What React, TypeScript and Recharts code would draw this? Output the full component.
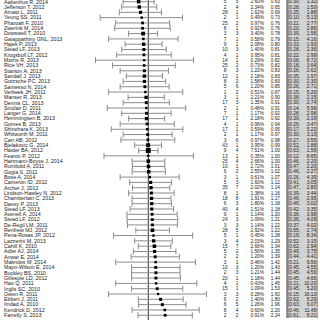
import {
  ScatterChart,
  Scatter,
  XAxis,
  YAxis,
  ErrorBar,
  ReferenceLine,
} from 'recharts';

const studies = [
  'Aabenhus R, 2014', 'Jefferson T, 2012', 'Amato L, 2011', 'Yeung SS, 2011', 'Pharoah F, 2010',
  'Zwerink M, 2014', 'Dowswell T, 2010', 'Gaiappathiny GNL, 2013', 'Hajek P, 2013', 'Stead LF, 2013',
  'Krogsboll LT, 2012', 'Morris R, 2013', 'Rice VH, 2013', 'Stanton A, 2013', 'Sandall J, 2013',
  'Gotzsche PC, 2013', 'Santesso N, 2014', 'Verbeek JH, 2011', 'Manser R, 2013', 'Dennis CL, 2013',
  'Sinclair D, 2011', 'Langer G, 2014', 'Hemmingsen B, 2013', 'Gomes B, 2013', 'Shinohara K, 2013',
  'Whitworth M, 2011', 'Carr AB, 2012', 'Bjelakovic G, 2014', 'Haider BA, 2012', 'Fearon P, 2012',
  'Hartmann-Boyce J, 2014', 'Rumbold A, 2011', 'Gogia S, 2011', 'Bose A, 2014', 'Cameron ID, 2012',
  'Archer J, 2012', 'Lindson-Hawley N, 2012', 'Chamberlain C, 2013', 'Davey P, 2013', 'Stead LF, 2013',
  'Avenell A, 2014', 'Stead LF, 2012', 'De-Regil LM, 2011', 'Renfrew MJ, 2012', 'Pena-Rosas JP, 2012',
  'Lazzerini M, 2013', 'Cahill K, 2010', 'Adler AJ, 2014', 'Anwar E, 2014', 'Makrides M, 2014',
  'Mayo-Wilson E, 2014', 'Buckley BS, 2010', 'Gillespie LD, 2012', 'Hao Q, 2011', 'Inglis SC, 2010',
  'Owen R, 2011', 'Ebbert J, 2011', 'Imdad A, 2010', 'Kendrick D, 2012', 'Farrelly S, 2013',
];

const countA = [
  5, 2, 28, 2, 25, 8, 3, 7, 9, 10, 4, 14, 25, 8, 12,
  8, 5, 1, 3, 17, 2, 7, 17, 4, 17, 2, 3, 43, 9, 13,
  25, 10, 6, 3, 5, 35, 8, 18, 6, 40, 9, 24, 3, 28, 5,
  3, 15, 5, 2, 3, 10, 2, 20, 4, 15, 3, 6, 6, 8, 2,
];

const countB = [
  5, 4, 1, 1, 2, 1, 3, 1, 1, 3, 1, 1, 2, 3, 1,
  2, 6, 2, 1, 3, 1, 1, 1, 1, 1, 1, 6, 1, 4, 1,
  4, 1, 2, 1, 3, 7, 1, 8, 3, 4, 1, 3, 3, 5, 1,
  4, 7, 2, 2, 1, 3, 3, 1, 1, 1, 3, 2, 5, 4, 2,
];

const weights = [
  2.6, 2.34, 1.62, 0.49, 0.97, 0.92, 3.4, 0.58, 2.08, 1.4, 0.95, 0.29, 0.73, 1.22, 2.18,
  1.58, 1.2, 0.51, 2.21, 1.35, 0.48, 1.17, 2.18, 0.96, 0.59, 1.17, 0.97, 3.95, 7.51, 0.35,
  2.66, 2.72, 2.55, 0.61, 1.6, 2.02, 1.38, 1.91, 1.8, 1.51, 1.14, 1.09, 1.14, 2.92, 0.45,
  2.03, 2.66, 1.56, 1.2, 0.46, 1.2, 1.21, 1.18, 0.43, 1.09, 0.28, 1.4, 1.26, 0.6, 0.91,
];

const oddsRatio = [
  0.63, 0.65, 0.69, 0.73, 0.76, 0.76, 0.78, 0.79, 0.8, 0.81, 0.81, 0.82, 0.82, 0.83, 0.83,
  0.83, 0.85, 0.87, 0.9, 0.91, 0.91, 0.92, 0.92, 0.94, 0.95, 0.97, 0.98, 0.99, 1.0, 1.0,
  1.0, 1.01, 1.02, 1.07, 1.12, 1.14, 1.16, 1.17, 1.18, 1.18, 1.2, 1.21, 1.22, 1.22, 1.28,
  1.29, 1.34, 1.35, 1.39, 1.42, 1.43, 1.44, 1.44, 1.45, 1.53, 1.6, 1.8, 1.96, 2.2, 2.24,
];

const ciLow = [
  0.3, 0.28, 0.25, 0.1, 0.21, 0.2, 0.39, 0.15, 0.33, 0.28, 0.22, 0.08, 0.18, 0.26, 0.35,
  0.3, 0.26, 0.15, 0.38, 0.3, 0.14, 0.28, 0.39, 0.26, 0.17, 0.3, 0.27, 0.52, 0.63, 0.12,
  0.46, 0.47, 0.46, 0.26, 0.41, 0.47, 0.39, 0.46, 0.46, 0.42, 0.36, 0.36, 0.37, 0.55, 0.19,
  0.52, 0.62, 0.49, 0.44, 0.21, 0.45, 0.45, 0.45, 0.21, 0.45, 0.15, 0.62, 0.63, 0.46, 0.61,
];

const ciHigh = [
  1.32, 1.5, 1.88, 5.13, 2.77, 2.86, 1.56, 4.16, 1.93, 2.36, 2.99, 8.72, 3.64, 2.62, 1.97,
  2.3, 2.71, 5.2, 2.15, 2.74, 5.99, 2.98, 2.19, 3.47, 5.22, 3.13, 3.55, 1.88, 1.59, 8.65,
  2.2, 2.2, 2.27, 4.39, 3.05, 2.8, 3.44, 2.95, 3.02, 3.35, 3.98, 4.09, 4.02, 2.74, 8.34,
  3.15, 2.94, 3.75, 4.41, 9.56, 4.55, 4.56, 4.66, 10.2, 5.2, 16.13, 5.29, 6.07, 11.45, 8.21,
];

const data = studies.map((name, i) => ({
  row: i,
  or: oddsRatio[i],
  w: weights[i],
  err: [oddsRatio[i] - ciLow[i], ciHigh[i] - oddsRatio[i]],
}));

const rowTicks = studies.map((_, i) => i);

// log scale: OR=1 sits at x≈148, ~20.9px per ln unit, plot spans x 90..220
const xDomain = [Math.exp(-58.3 / 20.9), Math.exp(71.7 / 20.9)];

const textFont = 'Liberation Sans, Arial, sans-serif';

function RowTick(props: any) {
  const { y, payload } = props;
  const i = payload.value;
  if (studies[i] === undefined) return null;
  const h = 5.32;
  return (
    <g fontFamily={textFont} fill="#222">
      <rect x={287} y={y - h / 2} width={31} height={h + 0.1} fill="#d2d2d2" />
      <line x1={287} x2={287} y1={y - h / 2} y2={y + h / 2 + 0.1} stroke="#333" />
      <text x={4} y={y} dy="0.35em" fontSize={5.3} textAnchor="start">
        {studies[i]}
      </text>
      <text x={225} y={y} dy="0.35em" fontSize={4.8} textAnchor="middle">
        {countA[i]}
      </text>
      <text x={237} y={y} dy="0.35em" fontSize={4.8} textAnchor="middle">
        {countB[i]}
      </text>
      <text x={264} y={y} dy="0.35em" fontSize={4.8} textAnchor="end">
        {weights[i].toFixed(2)}%
      </text>
      <text x={280} y={y} dy="0.35em" fontSize={4.8} textAnchor="end">
        {oddsRatio[i].toFixed(2)}
      </text>
      <text x={288} y={y} dy="0.35em" fontSize={4.8} textAnchor="start">
        [{ciLow[i].toFixed(2)},
      </text>
      <text x={317.5} y={y} dy="0.35em" fontSize={4.8} textAnchor="end">
        {ciHigh[i].toFixed(2)}]
      </text>
    </g>
  );
}

function Box(props: any) {
  const { cx, cy, payload } = props;
  const s = 1.6 + 1.2 * Math.sqrt(payload.w);
  return <rect x={cx - s / 2} y={cy - s / 2} width={s} height={s} fill="#000" />;
}

export default function App() {
  return (
    <div style={{ position: 'absolute', left: 0, top: 0, background: '#fff' }}>
      <ScatterChart
        width={320}
        height={320}
        margin={{ top: 0, right: 100, bottom: 0, left: 0 }}
      >
        <XAxis
          type="number"
          dataKey="or"
          scale="log"
          domain={xDomain}
          allowDataOverflow
          hide
        />
        <YAxis
          type="number"
          dataKey="row"
          domain={[-0.32, 59.89]}
          reversed
          allowDataOverflow
          ticks={rowTicks}
          interval={0}
          width={90}
          axisLine={false}
          tickLine={false}
          tick={<RowTick />}
        />
        <ReferenceLine x={1} stroke="#333" strokeWidth={1} />
        <Scatter data={data} shape={<Box />} isAnimationActive={false}>
          <ErrorBar dataKey="err" direction="x" width={3} stroke="#8c8c8c" strokeWidth={1} />
        </Scatter>
      </ScatterChart>
    </div>
  );
}
